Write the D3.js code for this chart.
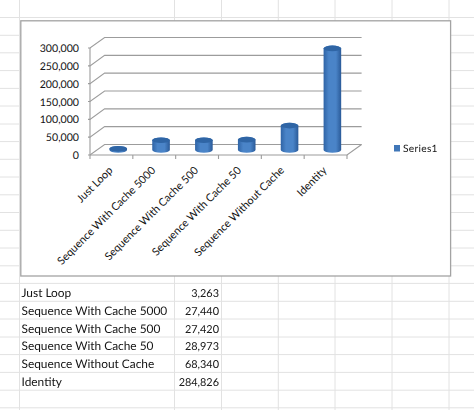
<!DOCTYPE html>
<html>
<head>
<meta charset="utf-8">
<script src="https://cdn.jsdelivr.net/npm/d3@7"></script>
<style>
  html, body { margin: 0; padding: 0; background: #fff; }
  svg { display: block; filter: blur(0.3px); }
  text { font-family: Lato, "Open Sans", sans-serif; fill: #141414; text-rendering: geometricPrecision; }
</style>
</head>
<body>
<script>
var categories = ['Just Loop', 'Sequence With Cache 5000', 'Sequence With Cache 500', 'Sequence With Cache 50', 'Sequence Without Cache', 'Identity'];
var values = [3263, 27440, 27420, 28973, 68340, 284826];
var tableLabels = ['3,263', '27,440', '27,420', '28,973', '68,340', '284,826'];
var yTicks = [0, 50000, 100000, 150000, 200000, 250000, 300000];
var seriesName = 'Series1';

var sheetRows = [17.5, 35.3, 52.8, 70.6, 88.4, 106, 124, 141.6, 159.3, 177, 194.8, 212.5, 230.3, 248, 265.8, 283.4, 301.3, 319, 337, 354.6, 372.4, 390.2, 407.8];
var sheetCols = [19.5, 174.5, 221.5, 278.3, 335, 392, 449];

var width = 474, height = 410;
var svg = d3.select('body').append('svg').attr('width', width).attr('height', height);

// spreadsheet cells behind the chart
svg.selectAll('line.row').data(sheetRows).enter().append('line')
  .attr('class', 'row')
  .attr('x1', 0).attr('x2', width)
  .attr('y1', function (d) { return d; }).attr('y2', function (d) { return d; })
  .attr('stroke', '#e2e2e2').attr('stroke-width', 1);
svg.selectAll('line.col').data(sheetCols).enter().append('line')
  .attr('class', 'col')
  .attr('x1', function (d) { return d; }).attr('x2', function (d) { return d; })
  .attr('y1', 0).attr('y2', height)
  .attr('stroke', '#e2e2e2').attr('stroke-width', 1);

// chart frame
svg.append('rect').attr('x', 20.8).attr('y', 20.8).attr('width', 429.8).attr('height', 255.2)
  .attr('fill', '#fff').attr('stroke', '#a3a3a3').attr('stroke-width', 1.3);

var defs = svg.append('defs');
var grad = defs.append('linearGradient').attr('id', 'cyl');
grad.append('stop').attr('offset', '0%').attr('stop-color', '#2f64a6');
grad.append('stop').attr('offset', '30%').attr('stop-color', '#4a84c8');
grad.append('stop').attr('offset', '70%').attr('stop-color', '#4a84c8');
grad.append('stop').attr('offset', '100%').attr('stop-color', '#2a5a98');

var frontLeft = 90, frontRight = 347, frontBase = 155, frontTop = 48;
var depthX = 14.6, depthY = 10.5;

var x = d3.scaleBand().domain(categories).range([frontLeft, frontRight]);
var y = d3.scaleLinear().domain([0, 300000]).range([frontBase, frontTop]);

var gridColor = '#9c9c9c';

// back wall and side wall gridlines
var grid = svg.append('g').attr('fill', 'none').attr('stroke', gridColor).attr('stroke-width', 1.1);
grid.selectAll('path').data(yTicks).enter().append('path')
  .attr('d', function (d) {
    return 'M' + (frontLeft - 2) + ',' + y(d) + 'L' + frontLeft + ',' + y(d) +
      'L' + (frontLeft + depthX) + ',' + (y(d) - depthY) +
      'L' + (frontRight + depthX) + ',' + (y(d) - depthY);
  });
// floor
grid.append('path').attr('d', 'M' + frontLeft + ',' + frontBase + 'L' + frontRight + ',' + frontBase +
  'L' + (frontRight + depthX) + ',' + (frontBase - depthY));
grid.append('line').attr('x1', frontLeft).attr('x2', frontLeft).attr('y1', frontTop).attr('y2', frontBase);

// category ticks
var tickPos = categories.map(function (c) { return x(c); }).concat([frontRight]);
grid.selectAll('line.tick').data(tickPos).enter().append('line')
  .attr('class', 'tick')
  .attr('x1', function (d) { return d; }).attr('x2', function (d) { return d; })
  .attr('y1', frontBase).attr('y2', frontBase + 4);

// value labels
svg.selectAll('text.ylab').data(yTicks).enter().append('text')
  .attr('class', 'ylab')
  .attr('x', 79).attr('y', function (d) { return y(d) + 4; })
  .attr('text-anchor', 'end').attr('font-size', 10.6)
  .text(d3.format(','));

// cylinders
var rx = 8.8, ry = 2.8, barShiftX = 6.8, barShiftY = 5;
function cylinderPath(d, i) {
  var cx = x(categories[i]) + x.bandwidth() / 2 + barShiftX;
  var base = y(0) - barShiftY;
  var top = y(d) - barShiftY;
  return 'M' + (cx - rx) + ',' + top +
    'L' + (cx - rx) + ',' + base +
    'A' + rx + ',' + ry + ' 0 0 0 ' + (cx + rx) + ',' + base +
    'L' + (cx + rx) + ',' + top +
    'A' + rx + ',' + ry + ' 0 0 0 ' + (cx - rx) + ',' + top + 'Z';
}
var bars = svg.append('g');
bars.selectAll('path').data(values).enter().append('path')
  .attr('d', cylinderPath)
  .attr('fill', 'url(#cyl)');
bars.selectAll('ellipse').data(values).enter().append('ellipse')
  .attr('cx', function (d, i) { return x(categories[i]) + x.bandwidth() / 2 + barShiftX; })
  .attr('cy', function (d) { return y(d) - barShiftY; })
  .attr('rx', rx).attr('ry', ry)
  .attr('fill', '#2f65a5');

// rotated category labels
svg.selectAll('text.xlab').data(categories).enter().append('text')
  .attr('class', 'xlab')
  .attr('font-size', 10.9)
  .attr('text-anchor', 'end')
  .attr('transform', function (d) {
    return 'translate(' + (x(d) + x.bandwidth() / 2 + 2) + ',171) rotate(-45)';
  })
  .text(function (d) { return d; });

// legend
svg.append('rect').attr('x', 394).attr('y', 145).attr('width', 6).attr('height', 6.5).attr('fill', '#4077b8');
svg.append('text').attr('x', 403).attr('y', 152).attr('font-size', 10.2).attr('letter-spacing', 0.3).text(seriesName);

// cells under the chart
var rowY = d3.scaleBand().domain(categories).range([283.4, 390.2]);
svg.selectAll('text.cat').data(categories).enter().append('text')
  .attr('class', 'cat')
  .attr('x', 21.5).attr('y', function (d) { return rowY(d) + 13.5; })
  .attr('font-size', 11.9).text(function (d) { return d; });
svg.selectAll('text.val').data(tableLabels).enter().append('text')
  .attr('class', 'val')
  .attr('x', 219).attr('y', function (d, i) { return rowY(categories[i]) + 13.5; })
  .attr('text-anchor', 'end').attr('font-size', 10.9).text(function (d) { return d; });
</script>
</body>
</html>
